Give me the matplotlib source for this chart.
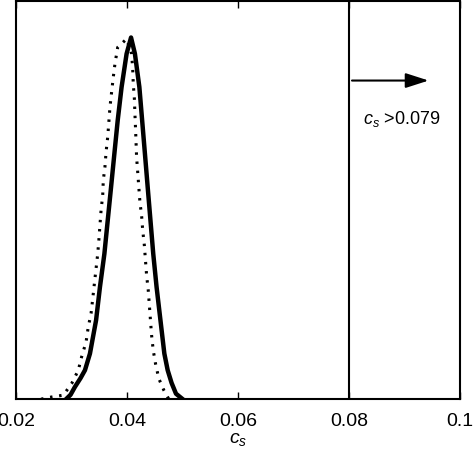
import matplotlib
matplotlib.use('Agg')
import matplotlib.pyplot as plt

plt.rcParams['font.family'] = ['Liberation Sans', 'DejaVu Sans']
plt.rcParams['mathtext.fontset'] = 'custom'
plt.rcParams['mathtext.it'] = 'Liberation Sans:italic'
plt.rcParams['mathtext.rm'] = 'Liberation Sans'

# solid curve (posterior)
solid_x = [0.0290, 0.0298, 0.0306, 0.0316, 0.0324, 0.0333, 0.0344, 0.0351, 0.0359,
           0.0365, 0.0371, 0.0377, 0.0383, 0.0390, 0.0399, 0.0407, 0.0414, 0.0422,
           0.0427, 0.0432, 0.0437, 0.0442, 0.0447, 0.0453, 0.0460, 0.0467, 0.0473,
           0.0480, 0.0488, 0.0500]
solid_y = [0.000, 0.012, 0.034, 0.058, 0.080, 0.126, 0.218, 0.310, 0.402,
           0.494, 0.586, 0.679, 0.771, 0.863, 0.955, 1.000, 0.955, 0.863,
           0.771, 0.679, 0.586, 0.494, 0.402, 0.310, 0.218, 0.126, 0.080,
           0.045, 0.015, 0.000]

# dotted curve
dot_x = [0.0245, 0.0260, 0.0285, 0.0300, 0.0312, 0.0318, 0.0326, 0.0330, 0.0335,
         0.0338, 0.0341, 0.0344, 0.0347, 0.0349, 0.0351, 0.0353, 0.0356, 0.0357,
         0.0360, 0.0362, 0.0365, 0.0367, 0.0369, 0.0372, 0.0375, 0.0378, 0.0383,
         0.0399, 0.0408, 0.0410, 0.0411, 0.0413, 0.0414, 0.0415, 0.0416, 0.0417,
         0.0419, 0.0421, 0.0423, 0.0426, 0.0428, 0.0431, 0.0433, 0.0435, 0.0438,
         0.0440, 0.0442, 0.0444, 0.0447, 0.0451, 0.0457, 0.0466, 0.0475]
dot_y = [0.000, 0.005, 0.011, 0.043, 0.080, 0.117, 0.158, 0.200, 0.237,
         0.278, 0.320, 0.361, 0.402, 0.439, 0.481, 0.522, 0.564, 0.605,
         0.642, 0.683, 0.725, 0.766, 0.807, 0.849, 0.890, 0.927, 0.973,
         0.996, 0.955, 0.913, 0.872, 0.831, 0.789, 0.752, 0.711, 0.669,
         0.628, 0.586, 0.545, 0.508, 0.467, 0.425, 0.384, 0.343, 0.301,
         0.260, 0.218, 0.177, 0.135, 0.099, 0.057, 0.025, 0.000]

xticks = [0.02, 0.04, 0.06, 0.08, 0.1]
xticklabels = ['0.02', '0.04', '0.06', '0.08', '0.1']
bound = 0.08

fig = plt.figure(figsize=(4.74, 4.5), dpi=100)
ax = fig.add_axes([0.034, 0.113, 0.937, 0.884])

ax.plot(dot_x, dot_y, color='black', lw=2.2, linestyle=(0, (0.8, 2.2)))
ax.plot(solid_x, solid_y, color='black', lw=3.2, solid_joinstyle='round')
ax.axvline(bound, color='black', lw=1.5)

ax.annotate('', xy=(0.0948, 0.881), xytext=(bound, 0.881),
            arrowprops=dict(arrowstyle='-|>,head_length=1.4,head_width=0.45',
                            color='black', lw=1.5))
ax.text(0.0825, 0.776, r'$c_s$ >0.079', fontsize=13, va='center', ha='left')

ax.set_xlim(0.02, 0.1)
ax.set_ylim(0, 1.10)
ax.set_xticks(xticks)
ax.set_xticklabels(xticklabels, fontsize=14)
ax.set_yticks([])
ax.tick_params(axis='x', direction='in', length=5, width=1, top=True, pad=10)
for s in ax.spines.values():
    s.set_linewidth(1.5)
ax.set_xlabel(r'$c_s$', fontsize=14, labelpad=1)

fig.savefig('out.png', dpi=100)
